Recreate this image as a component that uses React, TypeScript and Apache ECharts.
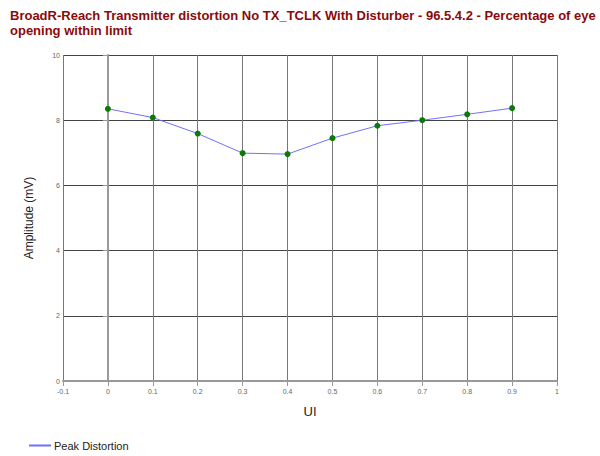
import React, { useEffect, useRef } from "react";
import * as echarts from "echarts";

const titleText = "BroadR-Reach Transmitter distortion No TX_TCLK With Disturber - 96.5.4.2 - Percentage of eye\nopening within limit";
const seriesName = "Peak Distortion";
const uiValues = [0, 0.1, 0.2, 0.3, 0.4, 0.5, 0.6, 0.7, 0.8, 0.9];
const amplitudeValues = [8.35, 8.08, 7.59, 6.99, 6.96, 7.45, 7.83, 8.0, 8.18, 8.37];

export default function App() {
  const ref = useRef<HTMLDivElement>(null);
  useEffect(() => {
    const chart = echarts.init(ref.current!, null, { renderer: "svg" });
    chart.setOption({
      animation: false,
      backgroundColor: "#ffffff",
      title: {
        text: titleText,
        left: 5,
        top: 3,
        textStyle: {
          color: "#8b0a0a",
          fontSize: 13,
          fontWeight: "bold",
          fontFamily: "Liberation Sans, Arial, sans-serif",
          lineHeight: 15,
        },
      },
      legend: {
        left: 24,
        top: 435,
        itemWidth: 22,
        itemHeight: 2,
        itemGap: 8,
        data: [{ name: seriesName, icon: "rect", itemStyle: { color: "#7070ff" } }],
        textStyle: { fontSize: 11, color: "#222", fontFamily: "Liberation Sans, Arial, sans-serif", padding: [0, 0, 0, -2] },
      },
      grid: { left: 63, right: 43, top: 55, bottom: 75, containLabel: false },
      xAxis: {
        type: "value",
        min: -0.1,
        max: 1,
        interval: 0.1,
        name: "UI",
        nameLocation: "middle",
        nameGap: 24,
        nameTextStyle: { fontSize: 13, color: "#222", fontFamily: "Liberation Sans, Arial, sans-serif" },
        axisLine: { show: true, lineStyle: { color: "#999", width: 2 } },
        axisTick: { show: true, length: 5, lineStyle: { color: "#999" } },
        axisLabel: {
          fontSize: 7,
          color: "#666",
          margin: 7,
          formatter: (v: number) => String(Math.round(v * 10) / 10),
        },
        splitLine: { show: true, lineStyle: { color: "#777", width: 1 } },
      },
      yAxis: {
        type: "value",
        min: 0,
        max: 10,
        interval: 2,
        name: "Amplitude (mV)",
        nameLocation: "middle",
        nameGap: 28,
        nameTextStyle: { fontSize: 12, color: "#222", fontFamily: "Liberation Sans, Arial, sans-serif" },
        axisLine: { show: true, lineStyle: { color: "#999", width: 2 } },
        axisTick: { show: true, length: 5, lineStyle: { color: "#999" } },
        axisLabel: { fontSize: 7, color: "#666", margin: 3 },
        splitLine: { show: true, lineStyle: { color: "#444", width: 1 } },
      },
      series: [
        {
          name: seriesName,
          type: "line",
          data: uiValues.map((x, i) => [x, amplitudeValues[i]]),
          symbol: "circle",
          symbolSize: 6,
          lineStyle: { color: "#7070ff", width: 1 },
          itemStyle: { color: "#0a7a0a" },
        },
      ],
    });
    return () => chart.dispose();
  }, []);
  return <div ref={ref} style={{ width: 600, height: 456, position: "absolute", left: 0, top: 0 }} />;
}
